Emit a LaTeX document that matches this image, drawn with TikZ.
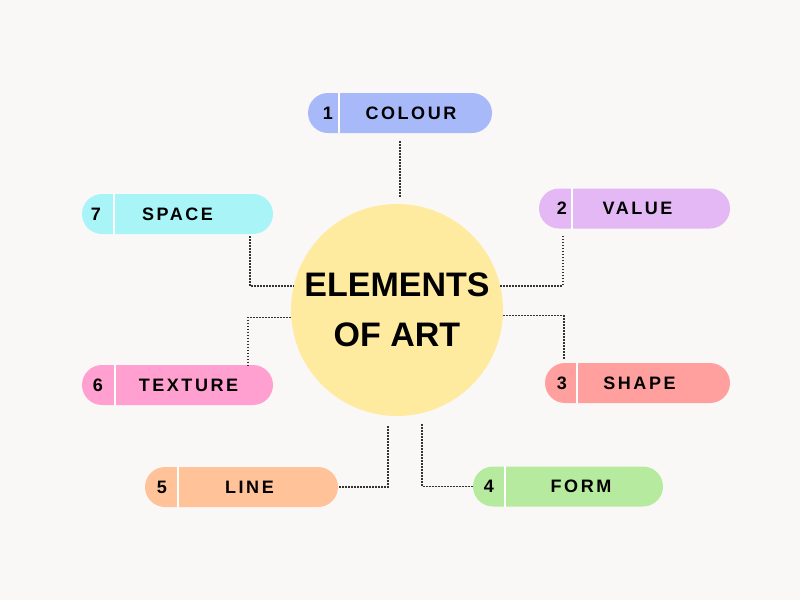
\documentclass[tikz,border=0pt]{standalone}
\usepackage{fontspec}
\usepackage{xcolor}
\setmainfont{Liberation Sans}
\newfontfamily\trackfont[LetterSpace=14]{Liberation Sans}

\definecolor{bgc}{HTML}{FAF8F7}
\definecolor{artc}{HTML}{FFEB9F}
\definecolor{colourc}{HTML}{A8B9FA}
\definecolor{valuec}{HTML}{E4B8F4}
\definecolor{shapec}{HTML}{FFA09E}
\definecolor{formc}{HTML}{B6EA9F}
\definecolor{linec}{HTML}{FFC299}
\definecolor{texturec}{HTML}{FFA0D0}
\definecolor{spacec}{HTML}{A9F4F7}

\tikzset{
  pill/.style={rectangle, rounded corners=20pt, minimum height=40pt, inner sep=0pt},
  num/.style={font=\bfseries\fontsize{18}{18}\selectfont},
  lbl/.style={font=\trackfont\bfseries\fontsize{18}{18}\selectfont},
  divider/.style={white, line width=1.5pt},
  link/.style={black!80, line width=1.6pt, dash pattern=on 1.8pt off 1.2pt},
}

\begin{document}
\begin{tikzpicture}[x=1pt, y=-1pt]
	\useasboundingbox[fill=bgc] (0,0) rectangle (800,600);
	% centre
	\node[circle, fill=artc, minimum size=212pt, inner sep=0pt, align=center,
	      font=\bfseries\fontsize{34}{50}\selectfont] (art) at (397,310) {ELEMENTS\\OF ART};
	% pills
	\node[pill, fill=colourc, minimum width=184pt] (colour) at (400,113) {};
	\node[pill, fill=valuec, minimum width=191pt] (value) at (634.5,208.5) {};
	\node[pill, fill=shapec, minimum width=185pt] (shape) at (637.5,383) {};
	\node[pill, fill=formc, minimum width=190pt] (form) at (568,486.5) {};
	\node[pill, fill=linec, minimum width=193pt] (line) at (241.5,487) {};
	\node[pill, fill=texturec, minimum width=191pt] (texture) at (177.5,385) {};
	\node[pill, fill=spacec, minimum width=191pt] (space) at (177.5,214) {};
	% dividers
	\draw[divider] ([xshift=31pt]colour.north west) -- ([xshift=31pt]colour.south west);
	\draw[divider] ([xshift=33pt]value.north west) -- ([xshift=33pt]value.south west);
	\draw[divider] ([xshift=32pt]shape.north west) -- ([xshift=32pt]shape.south west);
	\draw[divider] ([xshift=32pt]form.north west) -- ([xshift=32pt]form.south west);
	\draw[divider] ([xshift=33pt]line.north west) -- ([xshift=33pt]line.south west);
	\draw[divider] ([xshift=33pt]texture.north west) -- ([xshift=33pt]texture.south west);
	\draw[divider] ([xshift=32pt]space.north west) -- ([xshift=32pt]space.south west);
	% numbers and labels
	\node[num] (n1) at ([xshift=20pt]colour.west) {1};
	\node[lbl] (t1) at ([xshift=11pt]colour.center) {COLOUR};
	\node[num] (n2) at ([xshift=23pt]value.west) {2};
	\node[lbl] (t2) at ([xshift=3pt]value.center) {VALUE};
	\node[num] (n3) at ([xshift=17pt]shape.west) {3};
	\node[lbl] (t3) at ([xshift=2pt]shape.center) {SHAPE};
	\node[num] (n4) at ([xshift=16pt]form.west) {4};
	\node[lbl] (t4) at ([xshift=13pt]form.center) {FORM};
	\node[num] (n5) at ([xshift=17pt]line.west) {5};
	\node[lbl] (t5) at ([xshift=8pt]line.center) {LINE};
	\node[num] (n6) at ([xshift=16pt]texture.west) {6};
	\node[lbl] (t6) at ([xshift=11pt]texture.center) {TEXTURE};
	\node[num] (n7) at ([xshift=14pt]space.west) {7};
	\node[lbl] (t7) at ([xshift=0pt]space.center) {SPACE};
	% connectors
	\draw[link] ([yshift=-8pt]colour.south) -- ([yshift=6pt]colour.south |- art.north);
	\draw[link] (art.13) -| ([xshift=24pt,yshift=-6pt]value.south west);
	\draw[link] (art.-3) -| ([xshift=19pt,yshift=4pt]shape.north west);
	\draw[link] ([xshift=25pt,yshift=-8pt]art.south) |- (form.west);
	\draw[link] ([xshift=1pt]line.east) -| ([xshift=-9pt,yshift=-10pt]art.south);
	\draw[link] (art.184) -| ([xshift=-25pt]texture.north east);
	\draw[link] ([xshift=-23pt,yshift=-2pt]space.south east) |- (art.167);
\end{tikzpicture}
\end{document}
